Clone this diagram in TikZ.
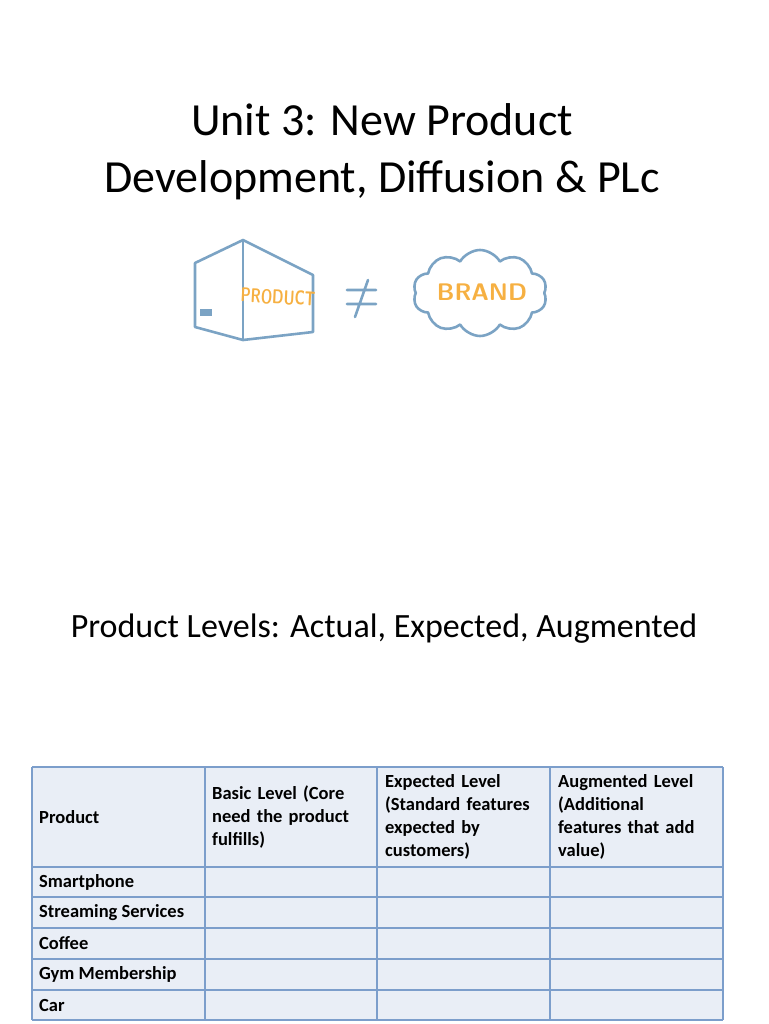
\documentclass[tikz,border=0pt]{standalone}
\usepackage{fontspec}
\setmainfont{Carlito}
\usetikzlibrary{shapes.symbols}
\definecolor{sk}{HTML}{7BA3C4}
\definecolor{og}{HTML}{F6B042}
\definecolor{cellf}{HTML}{E9EEF6}
\definecolor{grid}{HTML}{7C9ECB}
\tikzset{sketch/.style={draw=sk,line width=2.6pt,line join=round,line cap=round},
 hd/.style={font=\fontsize{18.5}{23}\selectfont\bfseries,anchor=west,align=left,text width=168pt,inner sep=0pt},
 rowlab/.style={font=\fontsize{18.5}{22}\selectfont\bfseries,anchor=west,inner sep=0pt},
 doodle/.style={text=og,font=\fontsize{17}{17}\selectfont\sffamily\bfseries}}
\begin{document}
\begin{tikzpicture}[x=1pt,y=-1pt]
\useasboundingbox (0,0) rectangle (768,1024);
\node[font=\fontsize{46}{57}\selectfont,align=center] (title) at (382,152) {Unit 3: New Product\\Development, Diffusion \& PLc};
% box
\draw[sketch] (195,263) -- (243,240) -- (313,275) -- (313,332) -- (243,340) -- (195,327) -- cycle;
\draw[sketch] (243,240) -- (243,340);
\fill[sk] (200,309) rectangle (212,316);
\node[doodle,rotate=-3,xscale=0.72,font=\fontsize{20}{20}\selectfont\sffamily\bfseries] (prod) at (278,297) {PRODUCT};
% not-equal sign
\coordinate (ne1) at (347,290); \coordinate (ne2) at (376,290);
\coordinate (ne3) at (347,304); \coordinate (ne4) at (376,304);
\coordinate (ne5) at (368,280); \coordinate (ne6) at (355,317);
\draw[sketch] (ne1) -- (ne2) (ne3) -- (ne4) (ne5) -- (ne6);
\node[cloud,cloud puffs=10,cloud puff arc=120,aspect=1.6,sketch,minimum width=134pt,minimum height=86pt] (cl) at (480,293) {};
\node[doodle,font=\fontsize{24}{24}\selectfont\sffamily\bfseries] (brand) at (482,292) {BRAND};
\node[font=\fontsize{34}{40}\selectfont] (levels) at (384,629) {Product Levels: Actual, Expected, Augmented};
% table
\fill[cellf] (32,767) rectangle (723,1020);
\foreach \x in {32,205,377,550,723} \draw[grid,line width=1.2pt] (\x,767) -- (\x,1020);
\foreach \y in {767,867,897,928,959,990,1020} \draw[grid,line width=1.2pt] (32,\y) -- (723,\y);
\node[hd] (h1) at (39,817) {Product};
\node[hd] (h2) at (212,817) {Basic Level (Core\\need the product\\fulfills)};
\node[hd] (h3) at (385,817) {Expected Level\\(Standard features\\expected by\\customers)};
\node[hd] (h4) at (558,817) {Augmented Level\\(Additional\\features that add\\value)};
\node[rowlab] (r1) at (39,882) {Smartphone};
\node[rowlab] (r2) at (39,913) {Streaming Services};
\node[rowlab] (r3) at (39,943) {Coffee};
\node[rowlab] (r4) at (39,974) {Gym Membership};
\node[rowlab] (r5) at (39,1005) {Car};
\end{tikzpicture}
\end{document}
